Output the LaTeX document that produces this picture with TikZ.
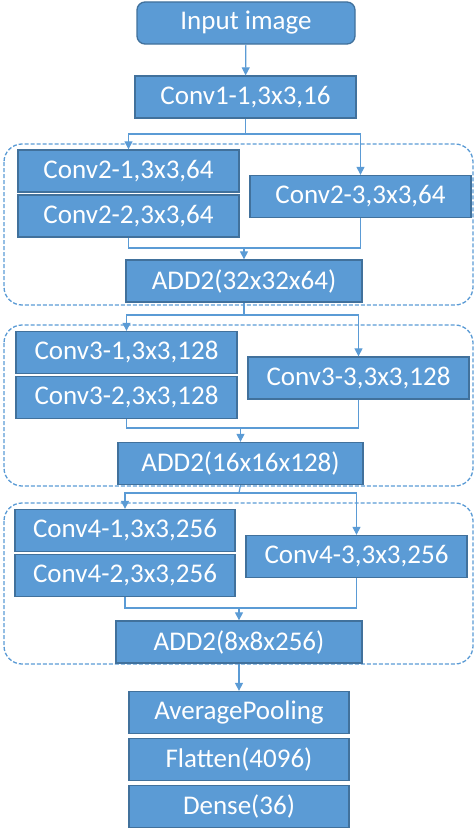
\documentclass[tikz,border=0pt]{standalone}
\usepackage{fontspec}
\setmainfont{Carlito}
\usetikzlibrary{arrows.meta}
\definecolor{boxfill}{HTML}{5B9BD5}
\definecolor{boxline}{HTML}{41719C}
\definecolor{connc}{HTML}{5B9BD5}
\begin{document}
\begin{tikzpicture}[x=1bp,y=-1bp,
  box/.style={draw=boxline, line width=1.3bp, fill=boxfill, text=white,
    font=\fontsize{27bp}{32bp}\selectfont, minimum height=42bp, inner sep=0pt, anchor=center},
  conn/.style={draw=connc, line width=1.2bp},
  arr/.style={conn, -{Triangle[width=8bp,length=8bp]}},
  dashbox/.style={draw=connc, line width=1.3bp, dash pattern=on 4bp off 2bp, rounded corners=18bp}]
\useasboundingbox (0,0) rectangle (474,831);

% dashed groups
\draw[dashbox] (4,144) rectangle (473,305);
\draw[dashbox] (4,325) rectangle (473,486);
\draw[dashbox] (4,503) rectangle (473,664);

% nodes
\node[box, minimum width=218bp, rounded corners=8bp] (in) at (246,23) {Input image};
\node[box, minimum width=221bp] (c1) at (245.5,97) {Conv1-1,3x3,16};

\node[box, minimum width=221bp] (c21) at (128.5,171) {Conv2-1,3x3,64};
\node[box, minimum width=221bp] (c22) at (128.5,216) {Conv2-2,3x3,64};
\node[box, minimum width=221bp] (c23) at (360.5,196.5) {Conv2-3,3x3,64};
\node[box, minimum width=236bp] (a1) at (244,281) {ADD2(32x32x64)};

\node[box, minimum width=221bp] (c31) at (126.5,352.5) {Conv3-1,3x3,128};
\node[box, minimum width=221bp] (c32) at (126.5,397.5) {Conv3-2,3x3,128};
\node[box, minimum width=221bp] (c33) at (358.5,378) {Conv3-3,3x3,128};
\node[box, minimum width=245bp] (a2) at (240.5,463.5) {ADD2(16x16x128)};

\node[box, minimum width=220bp] (c41) at (125,530.5) {Conv4-1,3x3,256};
\node[box, minimum width=220bp] (c42) at (125,575.5) {Conv4-2,3x3,256};
\node[box, minimum width=221bp] (c43) at (356.5,556.5) {Conv4-3,3x3,256};
\node[box, minimum width=246bp] (a3) at (239,642) {ADD2(8x8x256)};

\node[box, minimum width=220bp] (ap) at (239,712.5) {AveragePooling};
\node[box, minimum width=220bp] (fl) at (239,759.5) {Flatten(4096)};
\node[box, minimum width=220bp] (de) at (239,806.5) {Dense(36)};

% split / merge points
\coordinate (s1) at (245.5,134);
\coordinate (m1) at (244,248);
\coordinate (s2) at (240.5,315);
\coordinate (m2) at (240.5,428);
\coordinate (s3) at (239,493);
\coordinate (m3) at (239,608);

% connectors
\draw[arr] (in) -- (c1);

\draw[conn] (c1.south) -- (s1);
\draw[arr] (s1) -| (c21.north);
\draw[arr] (s1) -| (c23.north);
\draw[conn] (c22.south) |- (m1);
\draw[conn] (c23.south) |- (m1);
\draw[arr] (m1) -- (a1.north);

\draw[conn] (a1.south) |- (s2);
\draw[arr] (s2) -| (c31.north);
\draw[arr] (s2) -| (c33.north);
\draw[conn] (c32.south) |- (m2);
\draw[conn] (c33.south) |- (m2);
\draw[arr] (m2) -- (a2.north);

\draw[conn] (a2.south) -- (s3);
\draw[arr] (s3) -| (c41.north);
\draw[arr] (s3) -| (c43.north);
\draw[conn] (c42.south) |- (m3);
\draw[conn] (c43.south) |- (m3);
\draw[arr] (m3) -- (a3.north);

\draw[arr] (a3) -- (ap);
\end{tikzpicture}
\end{document}
